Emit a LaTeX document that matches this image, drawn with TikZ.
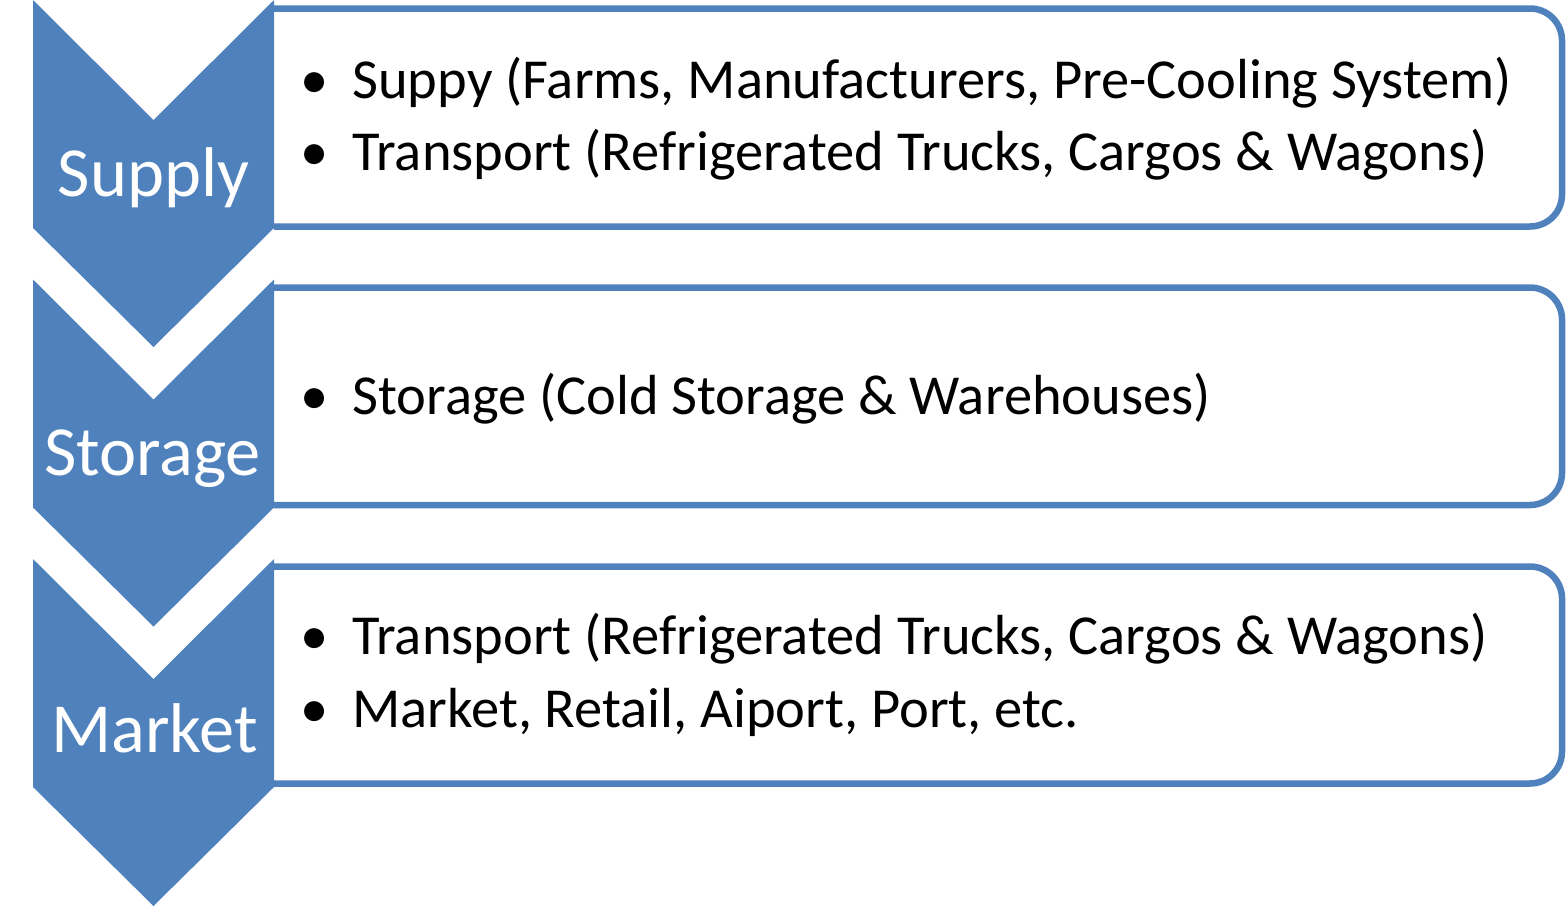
\documentclass[tikz,border=0pt]{standalone}
\usepackage{fontspec}
\setmainfont{Carlito}
\definecolor{chevblue}{HTML}{4F81BD}
\newcommand{\itembul}{\makebox[26pt][l]{\textbullet}}
\begin{document}
\begin{tikzpicture}[x=0.5pt, y=0.5pt,
  chev/.style={fill=chevblue},
  box/.style={draw=chevblue, line width=3.25pt, fill=white},
  stage/.style={text=white, font=\fontsize{35.2}{42}\selectfont, inner sep=0pt, anchor=base},
  item/.style={font=\fontsize{28.25}{34}\selectfont, inner sep=0pt, anchor=base west}]
\useasboundingbox (0,0) rectangle (1568,-906);

% Kaesten
\draw[box] (274,-8.5) -- (1530,-8.5) arc[start angle=90, end angle=0, radius=32]
  -- (1562,-194.5) arc[start angle=0, end angle=-90, radius=32] -- (274,-226.5);
\draw[box] (274,-287.5) -- (1530,-287.5) arc[start angle=90, end angle=0, radius=32]
  -- (1562,-473) arc[start angle=0, end angle=-90, radius=32] -- (274,-505);
\draw[box] (274,-566.5) -- (1530,-566.5) arc[start angle=90, end angle=0, radius=32]
  -- (1562,-751.5) arc[start angle=0, end angle=-90, radius=32] -- (274,-783.5);

% Pfeile
\fill[chev] (33,0) -- (153.5,-120) -- (274,0) -- (274,-228) -- (153.5,-347) -- (33,-228) -- cycle;
\fill[chev] (33,-279.5) -- (153.5,-399.5) -- (274,-279.5) -- (274,-507.5) -- (153.5,-626.5) -- (33,-507.5) -- cycle;
\fill[chev] (33,-559) -- (153.5,-679) -- (274,-559) -- (274,-787) -- (153.5,-906) -- (33,-787) -- cycle;

% Stufen
\node[stage] (supply) at (153.5,-196) {Supply};
\node[stage] (storage) at (152.5,-475) {Storage};
\node[stage] (market) at (154.5,-752) {Market};

% Punkte
\node[item] (supA) at (300,-98) {\itembul Suppy (Farms, Manufacturers, Pre-Cooling System)};
\node[item] (supB) at (300,-170) {\itembul Transport (Refrigerated Trucks, Cargos \& Wagons)};
\node[item] (stoA) at (300,-414) {\itembul Storage (Cold Storage \& Warehouses)};
\node[item] (marA) at (300,-654) {\itembul Transport (Refrigerated Trucks, Cargos \& Wagons)};
\node[item] (marB) at (300,-727) {\itembul Market, Retail, Aiport, Port, etc.};

\end{tikzpicture}
\end{document}
